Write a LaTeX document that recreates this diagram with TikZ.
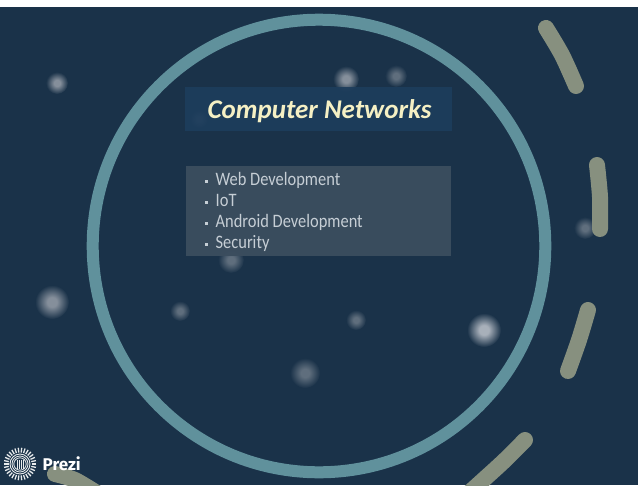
\documentclass[tikz,border=0pt]{standalone}
\usepackage{fontspec}
\setmainfont{Carlito}
\newfontfamily\bodyfont[FakeStretch=0.865]{Carlito}
\newfontfamily\logofont{Fira Sans}
\definecolor{bgc}{HTML}{1A3249}
\definecolor{ringc}{HTML}{60919C}
\definecolor{dashc}{HTML}{87907F}
\definecolor{titlebox}{HTML}{1D3D5C}
\definecolor{bodybox}{HTML}{3B4D5E}
\definecolor{titletext}{HTML}{F5F0C4}
\definecolor{bodytext}{HTML}{C6CED5}
\definecolor{glowA}{HTML}{A8B0BA}
\definecolor{glowB}{HTML}{858F9B}
\definecolor{glowC}{HTML}{5F6E7D}
\pgfdeclareradialshading{glowa}{\pgfpoint{0bp}{0bp}}{color(0bp)=(glowA); color(7bp)=(glowA); color(25bp)=(bgc); color(50bp)=(bgc)}
\pgfdeclareradialshading{glowb}{\pgfpoint{0bp}{0bp}}{color(0bp)=(glowB); color(7bp)=(glowB); color(25bp)=(bgc); color(50bp)=(bgc)}
\pgfdeclareradialshading{glowc}{\pgfpoint{0bp}{0bp}}{color(0bp)=(glowC); color(7bp)=(glowC); color(25bp)=(bgc); color(50bp)=(bgc)}
\tikzset{
  outerdash/.style={draw=dashc,line width=16pt,line cap=round},
  bodyline/.style={anchor=base west,text=bodytext,inner sep=0pt,font=\bodyfont\fontsize{19}{20}\selectfont},
  bulletdot/.style={fill=bodytext,inner sep=0pt,minimum size=3pt,rectangle},
}
\begin{document}
\begin{tikzpicture}[x=1pt,y=-1pt]
\useasboundingbox (0,0) rectangle (638,493);
\fill[white] (0,0) rectangle (638,493);
\begin{scope}
\clip (0,7) rectangle (638,485);
\fill[bgc] (0,7) rectangle (638,485);
% glows
\foreach \px/\py/\pr/\sh in {57/83/11/glowb,346/79/13/glowb,396/76/11/glowc,585/228/11/glowc,
  52/302/17/glowb,180/311/10/glowc,231/260/13/glowc,356/320/10/glowc,484/330/17/glowa,305/373/15/glowc,199/119/9/glowc}
  \shade[shading=\sh] (\px,\py) circle[radius=\pr];
% outer dashes
\draw[outerdash] plot[smooth] coordinates {(546,28) (562,55) (576,86)};
\draw[outerdash] plot[smooth] coordinates {(597,165) (600,197) (600,229)};
\draw[outerdash] plot[smooth] coordinates {(588,310) (579,340) (568,371)};
\draw[outerdash] plot[smooth] coordinates {(525,440) (504,461) (481,482) (470,492)};
\draw[outerdash] plot[smooth] coordinates {(55,474) (75,480) (100,495)};
% main ring
\draw[ringc,line width=12pt] (319,246) circle[radius=226.3];
\end{scope}
% boxes
\node[fill=titlebox,opacity=.92,draw=none,minimum width=267pt,minimum height=44pt,inner sep=0pt,anchor=north west] (titlebg) at (185,87) {};
\node[text=titletext,anchor=base,inner sep=0pt,font=\fontsize{27}{30}\selectfont\bfseries\itshape] (title) at (319.5,118) {Computer Networks};
\node[fill=bodybox,opacity=.97,draw=none,minimum width=265.5pt,minimum height=90.5pt,inner sep=0pt,anchor=north west] (bodybg) at (185.5,165.5) {};
\foreach \nm/\by/\txt in {a/185/Web Development,b/206/IoT,c/227/Android Development,d/248/Security}{
  \node[bodyline] (line\nm) at (215.5,\by) {\txt};
  \node[bulletdot] (dot\nm) at (206.5,\by-4) {};
}
% Prezi logo
\begin{scope}
\foreach \a in {0,12,...,348}
  \draw[white!90!bgc,line width=1.3pt] (20,464) ++(\a:11.5) -- ++(\a:4.8);
\draw[white!90!bgc,line width=.9pt] (20,464) circle[radius=10];
\draw[white!90!bgc,line width=.8pt] (20,464) circle[radius=8];
\draw[white!90!bgc,line width=.8pt] (20,464) circle[radius=6.2];
\foreach \dx in {-3,-1,1,3}
  \draw[white!90!bgc,line width=.9pt] (20+\dx,459.5) -- (20+\dx,468.5);
\end{scope}
\node[anchor=base west,text=white,inner sep=0pt,font=\logofont\bfseries\fontsize{17}{18}\selectfont] (logo) at (42.5,470) {Prezi};
\end{tikzpicture}
\end{document}
